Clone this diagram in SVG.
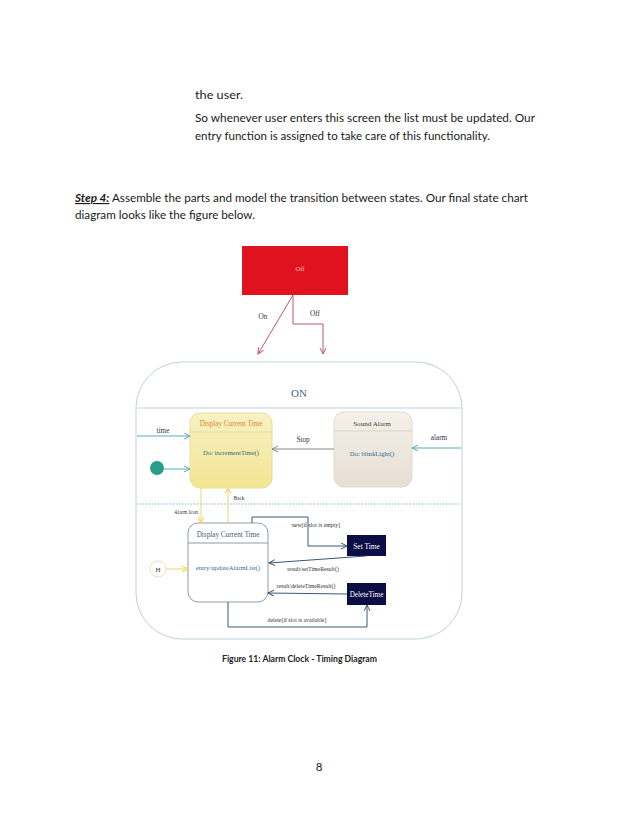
<svg xmlns="http://www.w3.org/2000/svg" width="638" height="826" viewBox="0 0 638 826">
<defs>
<marker id="mRose" markerUnits="userSpaceOnUse" markerWidth="8" markerHeight="8" refX="6" refY="3" orient="auto"><path d="M0,0 L6,3 L0,6" fill="none" stroke="#b85a68" stroke-width="1"/></marker>
<marker id="mTeal" markerUnits="userSpaceOnUse" markerWidth="8" markerHeight="8" refX="6" refY="3" orient="auto"><path d="M0,0 L6,3 L0,6" fill="none" stroke="#5aaabb" stroke-width="1"/></marker>
<marker id="mGray" markerUnits="userSpaceOnUse" markerWidth="8" markerHeight="8" refX="6" refY="3" orient="auto"><path d="M0,0 L6,3 L0,6" fill="none" stroke="#888" stroke-width="1"/></marker>
<marker id="mYel" markerUnits="userSpaceOnUse" markerWidth="8" markerHeight="8" refX="6" refY="3" orient="auto"><path d="M0,0 L6,3 L0,6" fill="none" stroke="#ead96a" stroke-width="1.2"/></marker>
<marker id="mNavy" markerUnits="userSpaceOnUse" markerWidth="8" markerHeight="8" refX="6" refY="3" orient="auto"><path d="M0,0 L6,3 L0,6" fill="none" stroke="#3d5872" stroke-width="1"/></marker>
<linearGradient id="gYel" x1="0" y1="0" x2="0" y2="1"><stop offset="0" stop-color="#f8f1c4"/><stop offset="1" stop-color="#f3e592"/></linearGradient>
<linearGradient id="gBei" x1="0" y1="0" x2="0" y2="1"><stop offset="0" stop-color="#f4f1ea"/><stop offset="1" stop-color="#e6ded2"/></linearGradient>
</defs>
<style>
.body{font-family:Lato,"Liberation Sans",sans-serif;font-size:11.5px;fill:#1a1a1a}
.d{font-family:"Liberation Serif",serif;text-anchor:middle}
.c{fill:none;stroke-width:1}
</style>
<rect width="638" height="826" fill="#fff"/>

<g id="page-text">
<text class="body" x="195" y="99" textLength="48" lengthAdjust="spacingAndGlyphs">the user.</text>
<text class="body" x="195" y="122" textLength="340" lengthAdjust="spacingAndGlyphs">So whenever user enters this screen the list must be updated. Our</text>
<text class="body" x="195" y="140" textLength="295" lengthAdjust="spacingAndGlyphs">entry function is assigned to take care of this functionality.</text>
<text class="body" x="75" y="202" textLength="453" lengthAdjust="spacingAndGlyphs"><tspan font-weight="bold" font-style="italic" text-decoration="underline">Step 4:</tspan> Assemble the parts and model the transition between states. Our final state chart</text>
<text class="body" x="75" y="219" textLength="180" lengthAdjust="spacingAndGlyphs">diagram looks like the figure below.</text>
<text class="body" x="222" y="662" style="font-size:9.5px;font-weight:bold;fill:#222" textLength="155" lengthAdjust="spacingAndGlyphs">Figure 11: Alarm Clock - Timing Diagram</text>
<text class="body" x="319" y="771" text-anchor="middle">8</text>
</g>

<g id="node-off">
<rect x="242" y="246" width="106" height="49" fill="#e0121f"/>
<text class="d" x="300" y="271" fill="#f7c0c0" font-size="6.5">Off</text>
</g>

<g id="node-on">
<rect x="136" y="362" width="326" height="277" rx="46" ry="46" fill="#fff" stroke="#bcd3db" stroke-width="1"/>
<line x1="137" y1="408" x2="461" y2="408" stroke="#bcd3db" stroke-width="1"/>
<line x1="137" y1="504" x2="461" y2="504" stroke="#7fb6d4" stroke-width="1" stroke-dasharray="1.5,1.5"/>
<text class="d" x="299" y="397" font-size="11" fill="#3d6a80">ON</text>
</g>

<g id="node-display-time">
<rect x="190" y="413" width="82" height="75" rx="10" fill="url(#gYel)" stroke="#e9dc9c"/>
<line x1="190" y1="432" x2="272" y2="432" stroke="#e9dc9c"/>
<text class="d" x="231" y="426" fill="#d68a2e" font-size="7.2">Display Current Time</text>
<text class="d" x="231" y="455" fill="#2f6d7c" font-size="6.6">Do: incrementTime()</text>
</g>

<g id="node-sound-alarm">
<rect x="334" y="412" width="78" height="75" rx="10" fill="url(#gBei)" stroke="#e2dacd"/>
<line x1="334" y1="431" x2="412" y2="431" stroke="#ddd4c5"/>
<text class="d" x="372" y="426" fill="#3a3a3a" font-size="7.1">Sound Alarm</text>
<text class="d" x="372" y="456" fill="#3b6a92" font-size="6.7">Do: blinkLight()</text>
</g>

<g id="node-initial">
<circle cx="157" cy="468" r="7" fill="#2a9d88"/>
</g>

<g id="node-display-time-2">
<rect x="188" y="523" width="80" height="79" rx="10" fill="#fff" stroke="#8d9eac"/>
<line x1="188" y1="543" x2="268" y2="543" stroke="#8d9eac"/>
<text class="d" x="228" y="537" fill="#4a5866" font-size="7.2">Display Current Time</text>
<text class="d" x="228" y="570" fill="#3b6e96" font-size="6.6">entry/updateAlarmList()</text>
</g>

<g id="node-history">
<circle cx="158" cy="569" r="8" fill="#fff" stroke="#ece3b8"/>
<text class="d" x="158" y="572" fill="#444" font-size="7">H</text>
</g>

<g id="node-set-time">
<rect x="347" y="535" width="39" height="21" fill="#0b0d45"/>
<text class="d" x="366.5" y="548.5" fill="#fff" font-size="7.4">Set Time</text>
</g>

<g id="node-delete-time">
<rect x="347" y="583" width="39" height="22" fill="#0b0d45"/>
<text class="d" x="366.5" y="596.5" fill="#fff" font-size="7.2">DeleteTime</text>
</g>

<g id="connectors" fill="#333">
<path class="c" d="M293,295 L258,354" stroke="#b85a68" marker-end="url(#mRose)"/>
<path class="c" d="M293,295 L293,324 L323,324 L323,354" stroke="#b85a68" marker-end="url(#mRose)"/>
<path class="c" d="M137,436 L190,436" stroke="#5aaabb" marker-end="url(#mTeal)"/>
<path class="c" d="M164,469 L190,469" stroke="#5aaabb" marker-end="url(#mTeal)"/>
<path class="c" d="M334,449 L272,449" stroke="#888" marker-end="url(#mGray)"/>
<path class="c" d="M461,448 L412,448" stroke="#5aaabb" marker-end="url(#mTeal)"/>
<path class="c" d="M201,488 L201,523" stroke="#ead96a" stroke-width="1.3" marker-end="url(#mYel)"/>
<path class="c" d="M228,523 L228,488" stroke="#ead96a" stroke-width="1.3" marker-end="url(#mYel)"/>
<path class="c" d="M166,569 L188,569" stroke="#ead96a" stroke-width="1.3" marker-end="url(#mYel)"/>
<path class="c" d="M252,523 L252,517 L308,517 L308,546 L347,546" stroke="#3d5872" marker-end="url(#mNavy)"/>
<path class="c" d="M366,556 L269,563" stroke="#3d5872" marker-end="url(#mNavy)"/>
<path class="c" d="M347,594 L268,593" stroke="#3d5872" marker-end="url(#mNavy)"/>
<path class="c" d="M228,602 L228,627 L367,627 L367,605" stroke="#3d5872" marker-end="url(#mNavy)"/>
<text class="d" x="263" y="319" font-size="7.3">On</text>
<text class="d" x="315" y="316" font-size="7.3">Off</text>
<text class="d" x="163" y="433" font-size="7.2">time</text>
<text class="d" x="303" y="442" font-size="7.2">Stop</text>
<text class="d" x="439" y="440" font-size="7.2">alarm</text>
<text class="d" x="239" y="500" font-size="5.3">Back</text>
<text class="d" x="186" y="514" font-size="5.2">Alarm Icon</text>
<text class="d" x="316" y="527" font-size="5.8">new[if slot is empty]</text>
<text class="d" x="313" y="571" font-size="5.8">result/setTimeResult()</text>
<text class="d" x="306" y="588" font-size="5.8">result/deleteTimeResult()</text>
<text class="d" x="297" y="622" font-size="5.8">delete[if slot is available]</text>
</g>
</svg>
